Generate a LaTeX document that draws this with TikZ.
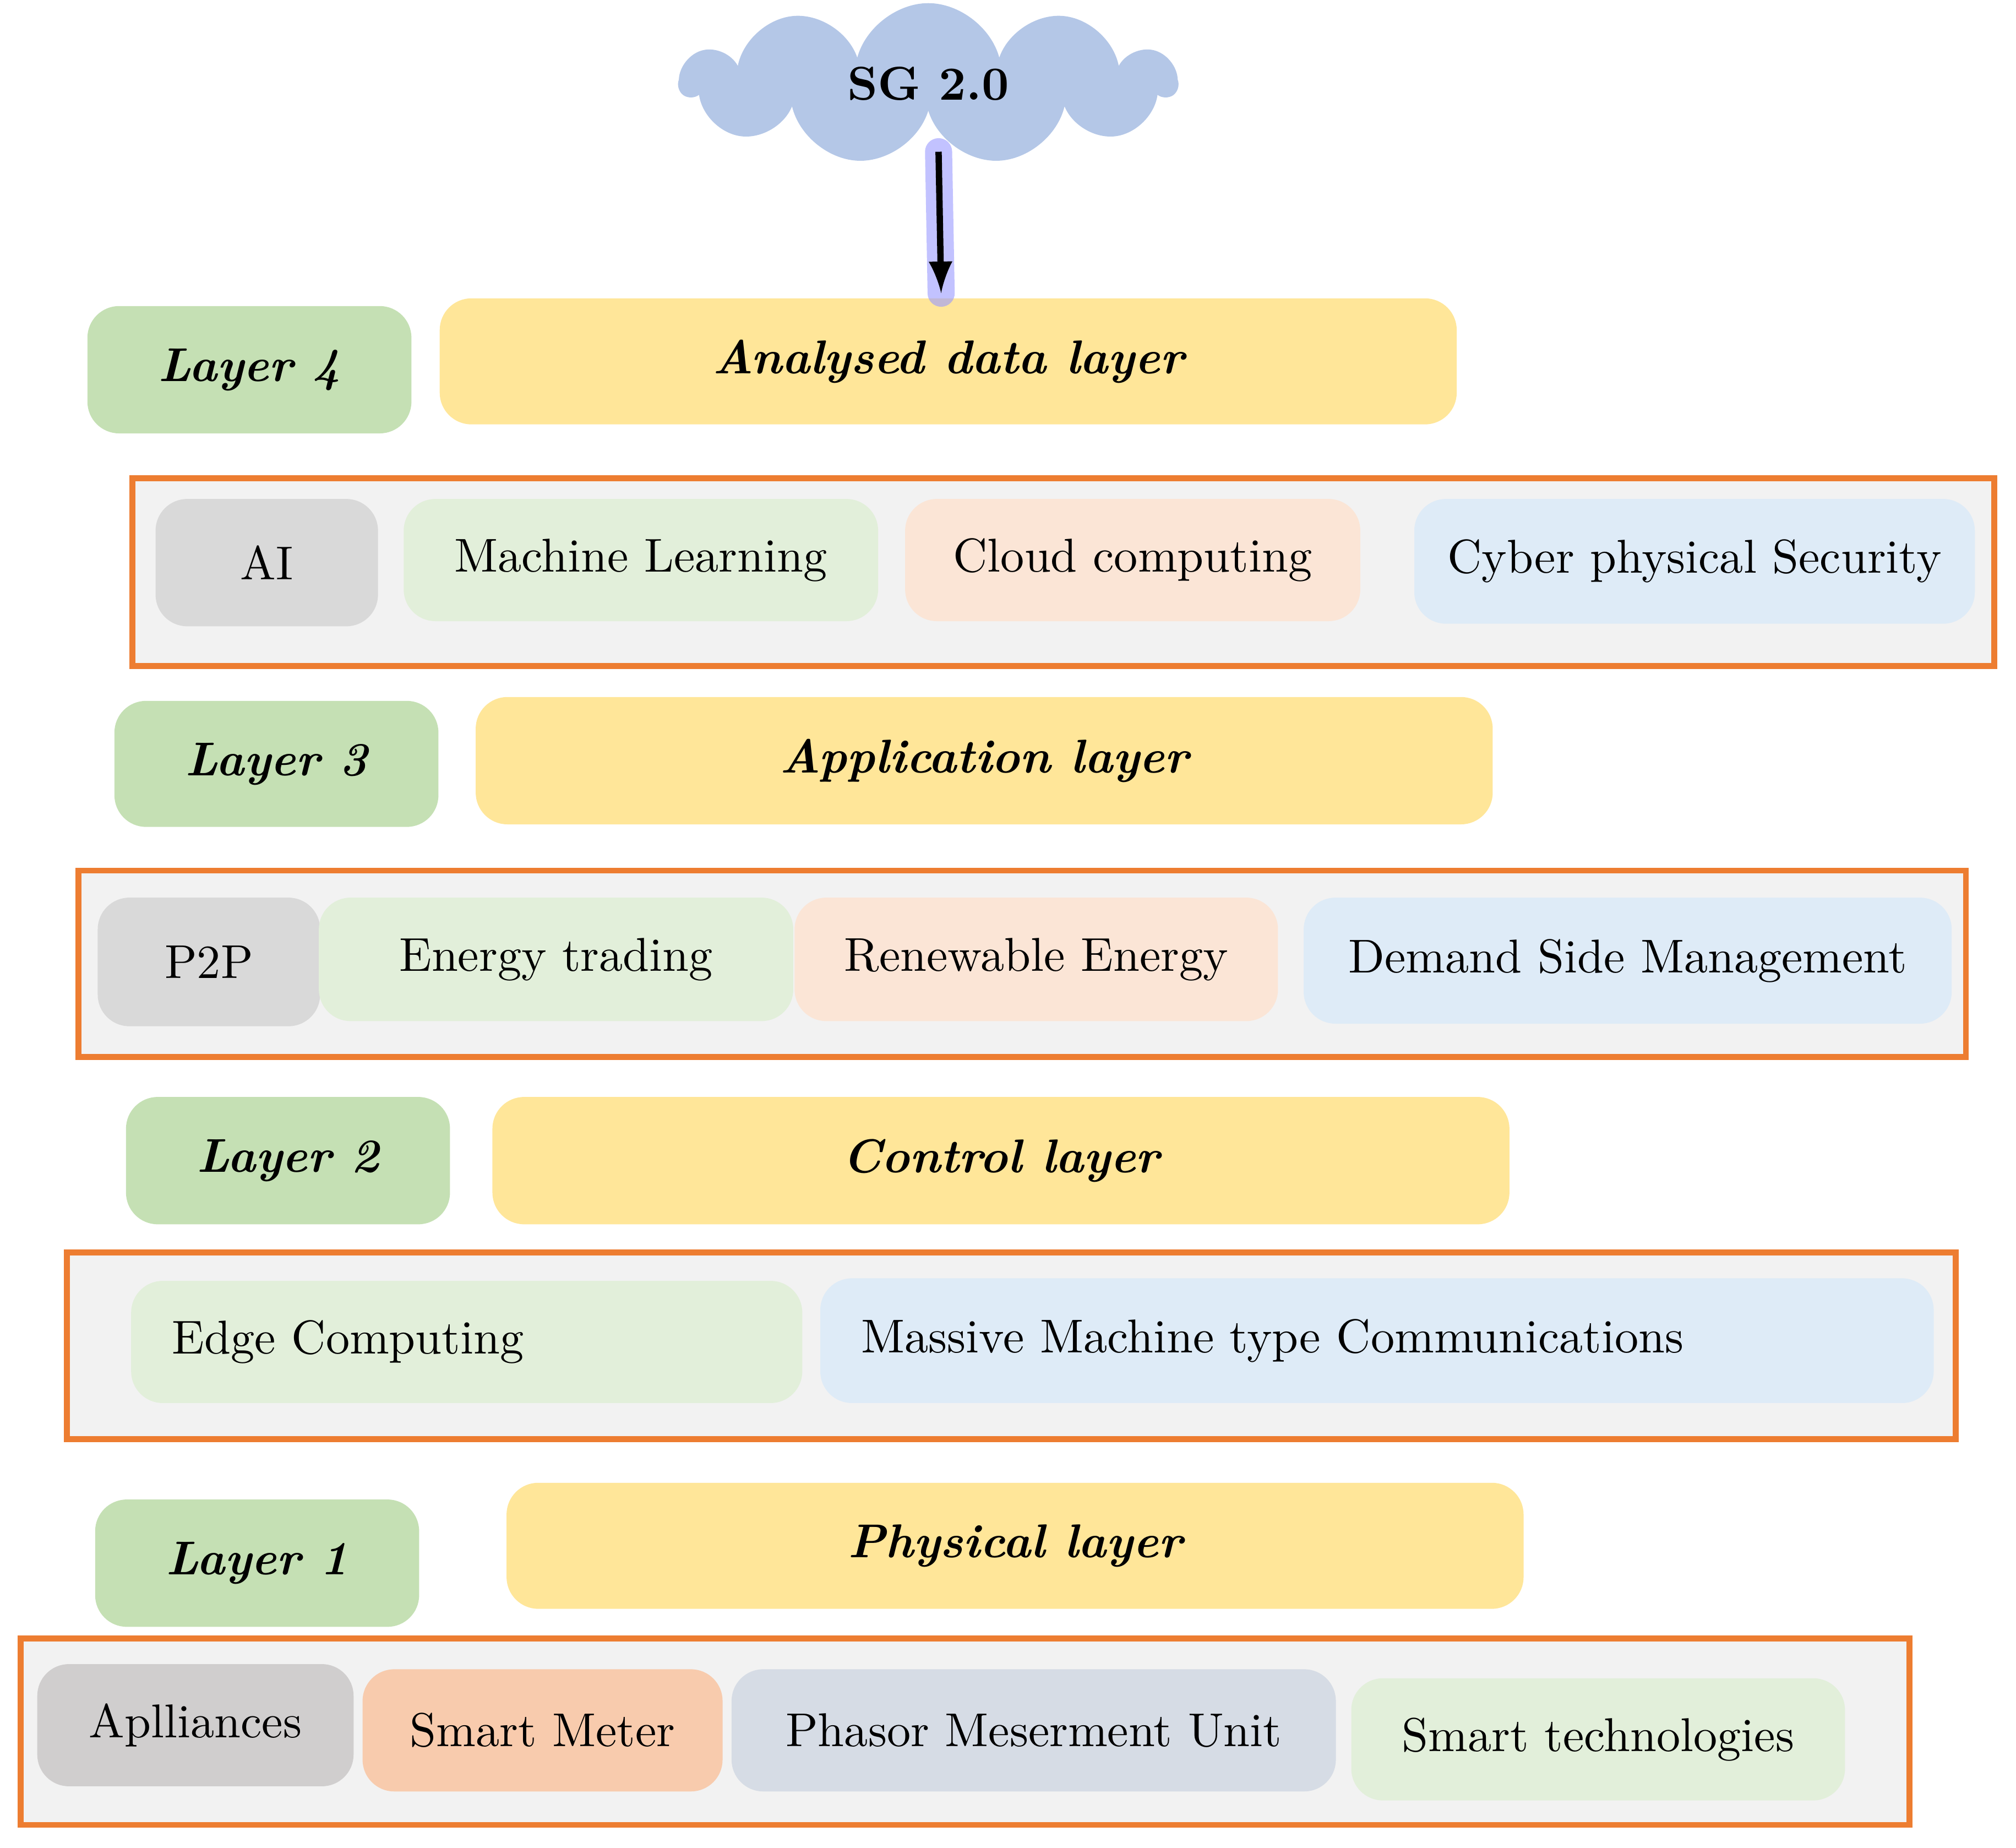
\documentclass[tikz,border=0pt]{standalone}
\usetikzlibrary{shapes.symbols}
\begin{document}
\begin{tikzpicture}[x=0.01cm,y=-0.01cm,font=\fontsize{10.5}{12}\selectfont,
 bx/.style={rounded corners=7pt,inner sep=0pt},
 lay/.style={bx,fill=green!20!lime!10!white,fill={rgb,255:red,197;green,224;blue,180},font=\fontsize{10.5}{12}\selectfont\bfseries\itshape},
 ttl/.style={bx,fill={rgb,255:red,255;green,230;blue,153},font=\fontsize{10.5}{12}\selectfont\bfseries\itshape},
 frm/.style={draw={rgb,255:red,237;green,125;blue,49},line width=1.3pt,fill={rgb,255:red,242;green,242;blue,242},inner sep=0pt},
 gy/.style={bx,fill={rgb,255:red,217;green,217;blue,217}},
 gn/.style={bx,fill={rgb,255:red,226;green,239;blue,218}},
 pk/.style={bx,fill={rgb,255:red,251;green,229;blue,214}},
 bl/.style={bx,fill={rgb,255:red,222;green,235;blue,247}}]
\useasboundingbox (0,0) rectangle (1568,1437);
\def\B#1#2#3#4#5#6#7{\node[#6,minimum width={(#4-#2)*0.01cm},minimum height={(#5-#3)*0.01cm}] (#1) at ({(#2+#4)/2},{(#3+#5)/2}) {#7};}
\def\BL#1#2#3#4#5#6#7{\node[#6,minimum width={(#4-#2)*0.01cm},minimum height={(#5-#3)*0.01cm},text width={(#4-#2-64)*0.01cm},align=left] (#1) at ({(#2+#4)/2},{(#3+#5)/2}) {#7};}
% cloud
\node[cloud,cloud puffs=11,aspect=3.2,fill={rgb,255:red,180;green,199;blue,231},minimum width=3.85cm,minimum height=1.25cm,font=\fontsize{10.5}{12}\selectfont\bfseries] (sg) at (722,65) {SG 2.0};
\coordinate (a1) at (730,118);
\B{l4}{68}{238}{320}{337}{lay}{Layer 4}
\B{t4}{342}{232}{1133}{330}{ttl}{Analysed data layer}
\coordinate (a2) at (732,228);
\draw[line width=6pt,blue!40,opacity=0.6,line cap=round] (a1) -- (a2);
\draw[line width=1.4pt,-latex] (a1) -- (a2);
% frame 1
\B{f1}{103}{372}{1551}{518}{frm}{}
\B{ai}{121}{388}{294}{487}{gy}{AI}
\B{ml}{314}{388}{683}{483}{gn}{Machine Learning}
\B{cc}{704}{388}{1058}{483}{pk}{Cloud computing}
\B{cy}{1100}{388}{1536}{485}{bl}{Cyber physical Security}
\B{l3}{89}{545}{341}{643}{lay}{Layer 3}
\B{t3}{370}{542}{1161}{641}{ttl}{Application layer}
% frame 2
\B{f2}{61}{677}{1529}{822}{frm}{}
\B{pp}{76}{698}{249}{798}{gy}{P2P}
\B{et}{248}{698}{617}{794}{gn}{Energy trading}
\B{re}{618}{698}{994}{794}{pk}{Renewable Energy}
\B{dm}{1014}{698}{1518}{796}{bl}{Demand Side Management}
\B{l2}{98}{853}{350}{952}{lay}{Layer 2}
\B{t2}{383}{853}{1174}{952}{ttl}{Control layer}
% frame 3
\B{f3}{52}{974}{1521}{1119}{frm}{}
\BL{ec}{102}{996}{624}{1091}{gn}{Edge Computing}
\BL{mm}{638}{994}{1504}{1091}{bl}{Massive Machine type Communications}
\B{l1}{74}{1166}{326}{1265}{lay}{Layer 1}
\B{t1}{394}{1153}{1185}{1251}{ttl}{Physical layer}
% frame 4
\B{f4}{16}{1274}{1485}{1419}{frm}{}
\B{ap}{29}{1294}{275}{1389}{bx,fill={rgb,255:red,208;green,206;blue,206}}{Aplliances}
\B{sm}{282}{1298}{562}{1393}{bx,fill={rgb,255:red,248;green,203;blue,173}}{Smart Meter}
\B{pm}{569}{1298}{1039}{1393}{bx,fill={rgb,255:red,214;green,220;blue,229}}{Phasor Meserment Unit}
\B{st}{1051}{1305}{1435}{1400}{gn}{Smart technologies}
\end{tikzpicture}
\end{document}
